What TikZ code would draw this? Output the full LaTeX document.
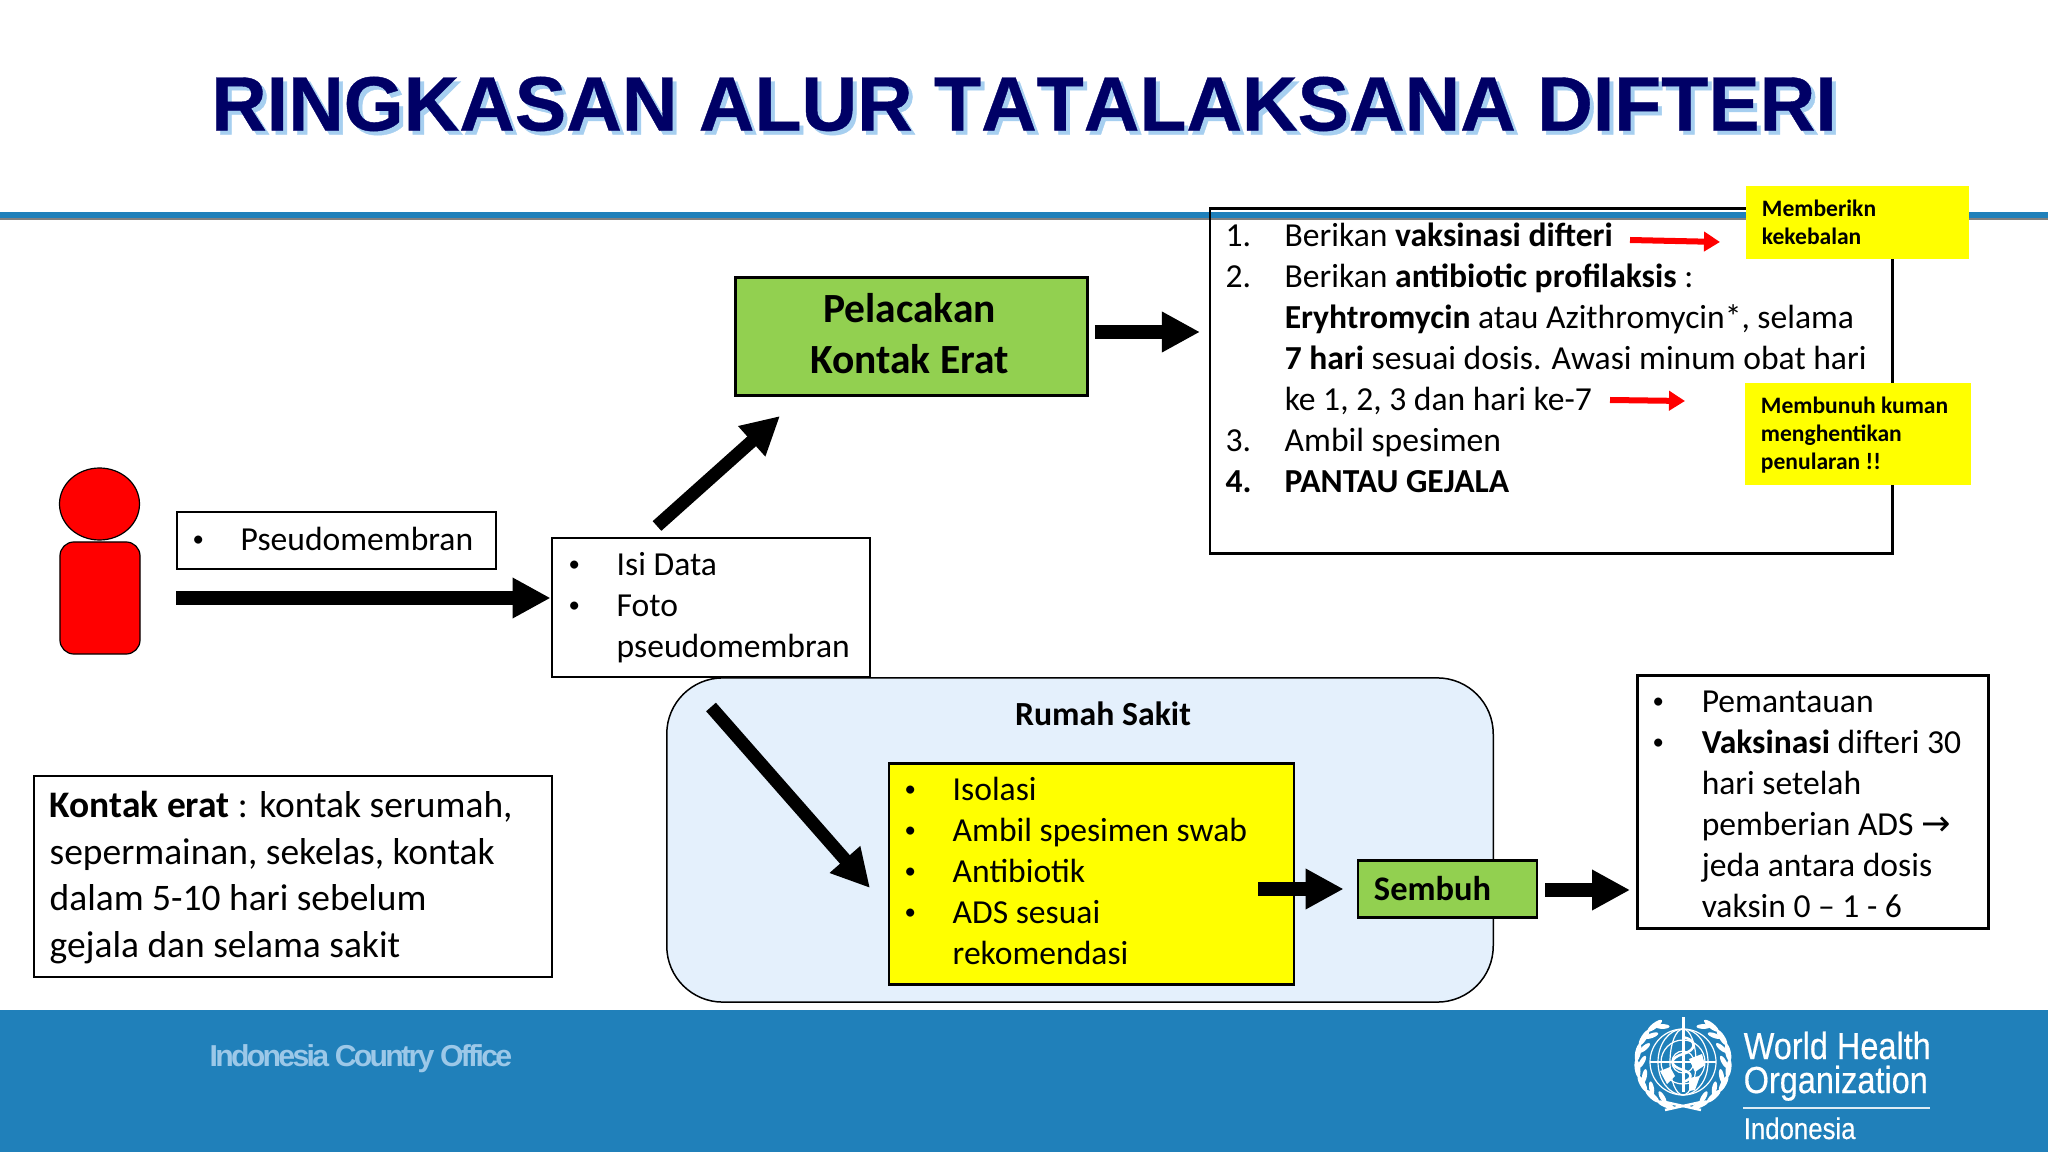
\documentclass[tikz,border=0pt]{standalone}
\usepackage{fontspec}
\setmainfont{Carlito}
\newfontfamily\arialfont{Liberation Sans}
\newfontfamily\titlefont[Kerning=Off]{Liberation Sans Bold}
\newfontfamily\arrowfont{DejaVu Sans}
\usetikzlibrary{calc,arrows.meta}

\definecolor{whoblue}{HTML}{2080BA}
\definecolor{titlenavy}{HTML}{000066}
\definecolor{titleshade}{HTML}{A6CFF0}
\definecolor{pagegreen}{HTML}{92D050}
\definecolor{notebg}{HTML}{FFFF00}
\definecolor{rsblue}{HTML}{E4F0FC}
\definecolor{officeblue}{HTML}{9CC8E8}

\newcommand{\bodysize}{\fontsize{9.55}{11.66}\selectfont}
\newcommand{\kontaksize}{\fontsize{10.65}{13.2}\selectfont}
\newcommand{\notesize}{\fontsize{6.7}{7.97}\selectfont}
\newcommand{\bul}{{\fontsize{6.5}{8}\selectfont\raisebox{.04cm}{\textbullet}}}

\tikzset{
    framebox/.style={draw=black,line width=.026cm,inner sep=0pt},
    listtext/.style={anchor=north west,inner sep=0pt,align=left,font=\bodysize},
    notebox/.style={fill=notebg,inner sep=0pt},
    notetext/.style={anchor=west,inner sep=0pt,align=left,font=\notesize\bfseries},
    titletext/.style={inner sep=0pt,font=\fontsize{21.9}{26}\titlefont\addfontfeatures{FakeBold=.5}},
    bigarrow/.style={line width=.13cm,-{Triangle[length=.38cm,width=.38cm]}},
    redarrow/.style={red,line width=.06cm,-{Triangle[length=.16cm,width=.19cm]}},
    leaf/.style={fill=white,draw=none},
    whotext/.style={white,anchor=base west,inner sep=0pt}
}

\begin{document}
\begin{tikzpicture}[x=0.01cm,y=-0.01cm]
    \useasboundingbox (0,0) rectangle (2048,1152);
    \fill[white] (0,0) rectangle (2048,1152);

    % header and footer
    \fill[gray] (0,218) rectangle (2048,220);
    \fill[whoblue] (0,212) rectangle (2048,218);
    \fill[whoblue] (0,1010) rectangle (2048,1152);
    \node[titleshade,titletext] (titleshadow) at (1028,108) {RINGKASAN ALUR TATALAKSANA DIFTERI};
    \node[titlenavy,titletext] (title) at (1024,104) {RINGKASAN ALUR TATALAKSANA DIFTERI};
    \node[officeblue,anchor=west,inner sep=0pt,font=\fontsize{8.6}{10}\arialfont\bfseries\addfontfeatures{LetterSpace=-9}] (office) at (209,1059) {Indonesia Country Office};

    % person
    \fill[red] (99.5,504) circle [x radius=40,y radius=36];
    \draw[black,line width=.012cm] (99.5,504) circle [x radius=40,y radius=36];
    \node[draw=black,line width=.012cm,fill=red,rounded corners=.14cm,minimum width=.8cm,minimum height=1.12cm,inner sep=0pt] (person) at (100,598) {};

    % boxes
    \node[framebox,minimum width=3.19cm,minimum height=.57cm] (pseudo) at (336.5,540.5) {};
    \node[framebox,minimum width=3.18cm,minimum height=1.39cm] (isidata) at (711,607.5) {};
    \node[framebox,fill=pagegreen,minimum width=3.52cm,minimum height=1.18cm] (pelacakan) at (911.5,336.5) {};
    \node[framebox,minimum width=6.82cm,minimum height=3.45cm] (tindakan) at (1551,381) {};
    \node[notebox,minimum width=2.23cm,minimum height=.73cm] (note1) at (1857.5,222.5) {};
    \node[notebox,minimum width=2.26cm,minimum height=1.02cm] (note2) at (1858,434) {};
    \node[framebox,line width=.015cm,fill=rsblue,rounded corners=.56cm,minimum width=8.26cm,minimum height=3.24cm] (rs) at (1080,840) {};
    \node[framebox,fill=notebg,minimum width=4.05cm,minimum height=2.21cm] (rawat) at (1091.5,874) {};
    \node[framebox,fill=pagegreen,minimum width=1.79cm,minimum height=.57cm,text width=1.47cm,align=left,font=\fontsize{9.8}{12}\selectfont\bfseries] (sembuh) at (1447.5,889) {Sembuh};
    \node[framebox,minimum width=3.51cm,minimum height=2.53cm] (pantau) at (1813,802) {};
    \node[framebox,minimum width=5.18cm,minimum height=2.01cm] (kontak) at (293,876.5) {};

    % texts
    \node[inner sep=0pt,align=center,font=\fontsize{11.8}{14.6}\selectfont\bfseries] (pelacakantext) at ($(pelacakan.center)+(-2,-3)$) {Pelacakan\\Kontak Erat};
    \node[anchor=center,inner sep=0pt,font=\fontsize{9.6}{12}\selectfont\bfseries] (rslabel) at ($(rs.north)+(23,37)$) {Rumah Sakit};
    \node[listtext] (pseudotext) at (192,521) {\begin{tabular}{@{}p{.48cm}@{}l@{}}\bul & Pseudomembran\end{tabular}};
    \node[listtext] (isitext) at (568,546.5) {\begin{tabular}{@{}p{.48cm}@{}l@{}}\bul & Isi Data\\ \bul & Foto\\ & pseudomembran\end{tabular}};
    \node[listtext] (tindakantext) at (1225,217) {\begin{tabular}{@{}p{.59cm}@{}l@{}}
        1. & Berikan \textbf{vaksinasi difteri}\\
        2. & Berikan \textbf{antibiotic profilaksis} :\\
        & \textbf{Eryhtromycin} atau Azithromycin*, selama\\
        & \textbf{7 hari} sesuai dosis. Awasi minum obat hari\\
        & ke 1, 2, 3 dan hari ke-7\\
        3. & Ambil spesimen\\
        \textbf{4.} & \textbf{PANTAU GEJALA}
    \end{tabular}};
    \node[notetext] (note1text) at ($(note1.west)+(16,0)$) {Memberikn\\kekebalan};
    \node[notetext] (note2text) at ($(note2.west)+(16,1)$) {Membunuh kuman\\menghentikan\\penularan !!};
    \node[listtext] (rawattext) at (904,771) {\begin{tabular}{@{}p{.48cm}@{}l@{}}
        \bul & Isolasi\\
        \bul & Ambil spesimen swab\\
        \bul & Antibiotik\\
        \bul & ADS sesuai\\
        & rekomendasi
    \end{tabular}};
    \node[listtext] (pantautext) at (1652,683) {\begin{tabular}{@{}p{.49cm}@{}l@{}}
        \bul & Pemantauan\\
        \bul & \textbf{Vaksinasi} difteri 30\\
        & hari setelah\\
        & pemberian ADS {\arrowfont\fontsize{10}{10}\selectfont →}\\
        & jeda antara dosis\\
        & vaksin 0 -- 1 - 6
    \end{tabular}};
    \node[anchor=north west,inner sep=0pt,align=left,font=\kontaksize] (kontaktext) at (49,791) {\textbf{Kontak erat} : kontak serumah,\\sepermainan, sekelas, kontak\\dalam 5-10 hari sebelum\\gejala dan selama sakit};

    % arrows
    \coordinate (a1) at (176,598);
    \coordinate (a2) at (657,526);
    \coordinate (a2e) at (780,416);
    \coordinate (a3) at (711,707);
    \coordinate (a3e) at (870,888);
    \draw[bigarrow] (a1) -- (isidata.west |- a1);
    \draw[bigarrow] (a2) -- (a2e);
    \draw[bigarrow,shorten <=.06cm,shorten >=-1.11cm] (pelacakan.east |- 0,332) -- ++(.01,0);
    \draw[bigarrow] (a3) -- (a3e);
    \draw[bigarrow,shorten >=.13cm] ($(rawat.east |- 0,889)+(-37,0)$) -- (sembuh.west |- 0,889);
    \draw[bigarrow,shorten <=.07cm,shorten >=.06cm] (sembuh.east |- 0,890) -- (pantau.west |- 0,890);
    \coordinate (r1) at (1630,240);
    \coordinate (r1e) at (1720,242);
    \coordinate (r2) at (1610,400);
    \coordinate (r2e) at (1685,401);
    \draw[redarrow] (r1) -- (r1e);
    \draw[redarrow] (r2) -- (r2e);

    % who emblem
    \def\cx{1683}
    \def\cy{1062}
    \begin{scope}[shift={(\cx,\cy)},white]
        \draw[line width=.012cm] (0,0) circle (33);
        \draw[line width=.012cm] (0,0) circle (22);
        \draw[line width=.012cm] (0,0) circle (11);
        \draw[line width=.012cm] (-33,0) -- (33,0);
        \draw[line width=.012cm] (0,0) circle [x radius=13,y radius=33];
        \draw[line width=.012cm] (0,0) circle [x radius=25,y radius=33];
        \fill (-23,9) -- (-13,5) -- (-8,14) -- (-16,22) -- cycle;
        \fill (6,-3) -- (19,-8) -- (22,3) -- (12,10) -- cycle;
        \fill (6,16) -- (17,14) -- (12,28) -- (6,29) -- cycle;
        \draw[line width=.03cm] (0,-45) -- (0,30);
        \draw[line width=.025cm] (0,-25) .. controls (14,-22) and (14,-12) .. (0,-8) .. controls (-14,-4) and (-14,4) .. (0,8) .. controls (10,11) and (10,17) .. (0,20);
        \foreach \ang in {22,42,...,142}{
            \fill[leaf,rotate=\ang] (0,46) ellipse [x radius=9,y radius=2.8];
            \fill[leaf,rotate=-\ang] (0,46) ellipse [x radius=9,y radius=2.8];
            \fill[leaf,rotate=\ang+8,shift={(0,41)},rotate=30] (0,0) ellipse [x radius=7,y radius=2.4];
            \fill[leaf,rotate=-\ang-8,shift={(0,41)},rotate=-30] (0,0) ellipse [x radius=7,y radius=2.4];
        }
        \draw[line width=.025cm] (-18,48) -- (18,40);
        \draw[line width=.025cm] (18,48) -- (-18,40);
    \end{scope}
    \node[whotext,font=\fontsize{10.7}{12}\arialfont\addfontfeatures{FakeBold=.5}] (who1) at (1743,1059) {\scalebox{.863}[1]{World Health}};
    \node[whotext,font=\fontsize{10.7}{12}\arialfont\addfontfeatures{FakeBold=.5}] (who2) at (1743,1093) {\scalebox{.863}[1]{Organization}};
    \node[whotext,font=\fontsize{8.5}{10}\arialfont\addfontfeatures{FakeBold=.5}] (who3) at (1743,1139) {\scalebox{.863}[1]{Indonesia}};
    \draw[white!85!whoblue,line width=.012cm] (who2.west |- 0,1108) -- (1930,1108);
\end{tikzpicture}
\end{document}
